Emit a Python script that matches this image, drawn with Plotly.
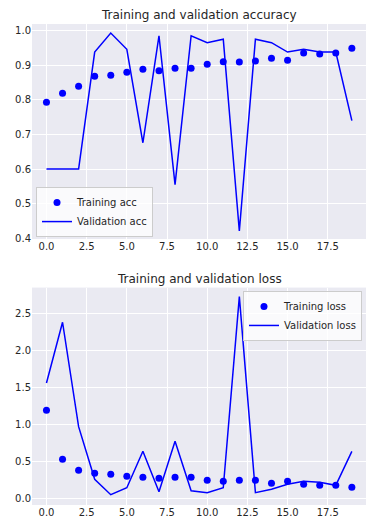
import plotly.graph_objects as go
from plotly.subplots import make_subplots

epochs = list(range(20))
train_acc = [0.793, 0.819, 0.839, 0.868, 0.871, 0.880, 0.888, 0.884, 0.891, 0.891,
             0.903, 0.910, 0.909, 0.912, 0.920, 0.914, 0.935, 0.932, 0.935, 0.949]
val_acc = [0.600, 0.600, 0.600, 0.938, 0.993, 0.946, 0.676, 0.985, 0.555, 0.985,
           0.965, 0.975, 0.421, 0.975, 0.965, 0.938, 0.946, 0.938, 0.938, 0.740]
train_loss = [1.189, 0.527, 0.378, 0.338, 0.324, 0.297, 0.284, 0.270, 0.284, 0.284,
              0.243, 0.230, 0.243, 0.243, 0.203, 0.230, 0.189, 0.176, 0.176, 0.149]
val_loss = [1.558, 2.378, 0.968, 0.257, 0.049, 0.143, 0.635, 0.089, 0.770, 0.103,
            0.076, 0.143, 2.724, 0.076, 0.122, 0.189, 0.230, 0.216, 0.176, 0.635]

BLUE = "#0000FF"
TXT = "#262626"
FONT = "DejaVu Sans"

fig = make_subplots(rows=2, cols=1, vertical_spacing=0.1)

fig.add_trace(go.Scatter(x=epochs, y=train_acc, mode="markers", name="Training acc",
                         marker=dict(color=BLUE, size=7), legend="legend"), row=1, col=1)
fig.add_trace(go.Scatter(x=epochs, y=val_acc, mode="lines", name="Validation acc",
                         line=dict(color=BLUE, width=1.5), legend="legend"), row=1, col=1)
fig.add_trace(go.Scatter(x=epochs, y=train_loss, mode="markers", name="Training loss",
                         marker=dict(color=BLUE, size=7), legend="legend2"), row=2, col=1)
fig.add_trace(go.Scatter(x=epochs, y=val_loss, mode="lines", name="Validation loss",
                         line=dict(color=BLUE, width=1.5), legend="legend2"), row=2, col=1)

axis_common = dict(showgrid=True, gridcolor="white", gridwidth=1, zeroline=False,
                   showline=False, ticks="", automargin=False,
                   tickfont=dict(family=FONT, size=10, color=TXT))

fig.update_xaxes(range=[-0.9, 19.88], dtick=2.5, tick0=0, tickformat=".1f", **axis_common)
fig.update_yaxes(**axis_common)
fig.update_layout(
    xaxis=dict(domain=[0, 1]),
    xaxis2=dict(domain=[0, 1]),
    yaxis=dict(domain=[0.553, 1], range=[0.398, 1.019], dtick=0.1, tick0=0, tickformat=".1f"),
    yaxis2=dict(domain=[0, 0.452], range=[-0.09, 2.846], dtick=0.5, tick0=0, tickformat=".1f"),
)

# The page body has an 8px default margin, so the figure is sized 378x520
fig.update_layout(
    width=378, height=520,
    margin=dict(l=24, r=20, t=16, b=23, autoexpand=False),
    paper_bgcolor="white",
    plot_bgcolor="#EAEAF2",
    font=dict(family=FONT, size=10, color=TXT),
    showlegend=True,
    legend=dict(x=0.012, y=0.557, xanchor="left", yanchor="bottom",
                bgcolor="rgba(255,255,255,0.75)", bordercolor="#CCCCCC", borderwidth=1,
                font=dict(family=FONT, size=10, color=TXT), tracegroupgap=0,
                itemwidth=30),
    legend2=dict(x=0.988, y=0.445, xanchor="right", yanchor="top",
                 bgcolor="rgba(255,255,255,0.75)", bordercolor="#CCCCCC", borderwidth=1,
                 font=dict(family=FONT, size=10, color=TXT), tracegroupgap=0,
                 itemwidth=30),
    annotations=[
        dict(text="Training and validation accuracy", x=0.5, y=1, xref="paper", yref="paper",
             xanchor="center", yanchor="bottom", yshift=0, showarrow=False,
             font=dict(family=FONT, size=12, color=TXT)),
        dict(text="Training and validation loss", x=0.5, y=0.452, xref="paper", yref="paper",
             xanchor="center", yanchor="bottom", yshift=0, showarrow=False,
             font=dict(family=FONT, size=12, color=TXT)),
    ],
)

fig.write_html("out.html")
